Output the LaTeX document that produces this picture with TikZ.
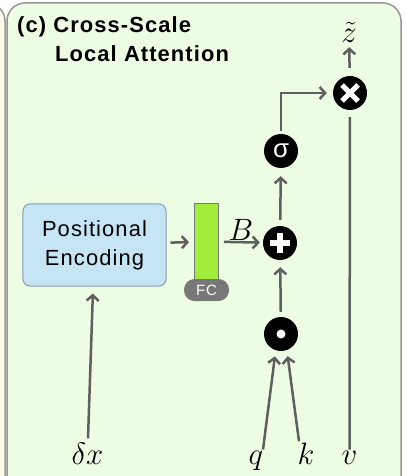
\RequirePackage{fix-cm}
\documentclass[tikz,border=0pt]{standalone}
\usepackage{fontspec}
\usetikzlibrary{arrows.meta}

\newfontfamily\labelfont[LetterSpace=5]{Liberation Sans}
\definecolor{panelgreen}{RGB}{236,253,228}
\definecolor{panelbeige}{RGB}{253,250,236}
\definecolor{panelborder}{RGB}{150,150,150}
\definecolor{peblue}{RGB}{197,229,245}
\definecolor{peborder}{RGB}{130,160,178}
\definecolor{fcgreen}{RGB}{162,236,58}
\definecolor{pillgray}{RGB}{120,120,120}
\definecolor{arrowgray}{RGB}{95,95,95}

\begin{document}
\begin{tikzpicture}[x=1bp, y=-1bp,
    arr/.style={draw=arrowgray, line width=2.5bp, -{Straight Barb[length=5.5bp, width=12bp]}},
    wire/.style={draw=arrowgray, line width=2.5bp},
    op/.style={circle, fill=black, minimum size=34bp, inner sep=0pt},
    mathlbl/.style={font=\fontsize{31}{35}\selectfont, inner sep=1bp}]
    \useasboundingbox (0,0) rectangle (406,476);
    \clip (0,0) rectangle (406,476);

    % Add panels
    \draw[fill=panelbeige, draw=panelborder, line width=1.5bp, rounded corners=18bp] (-300,3) rectangle (5,520);
    \draw[fill=panelgreen, draw=panelborder, line width=1.5bp, rounded corners=18bp] (7,3) rectangle (401,520);

    % title
    \node[anchor=base west, inner sep=0pt, font=\labelfont\bfseries\fontsize{22}{26}\selectfont] (title1) at (17,33) {(c) Cross-Scale};
    \node[anchor=base west, inner sep=0pt, font=\labelfont\bfseries\fontsize{22}{26}\selectfont] (title2) at (55,62) {Local Attention};

    % positional encoding and FC layer
    \node[draw=peborder, fill=peblue, line width=1bp, rounded corners=7bp, minimum width=143bp, minimum height=82bp,
          align=center, font=\labelfont\fontsize{22}{29}\selectfont] (pe) at (94.5,245) {Positional\\Encoding};
    \node[draw=pillgray, fill=fcgreen, line width=1bp, minimum width=24bp, minimum height=75bp, inner sep=0pt] (fc) at (206.5,241.5) {};
    \node[fill=pillgray, rounded corners=10.5bp, minimum width=45bp, minimum height=22bp, inner sep=0pt,
          text=white, font=\labelfont\fontsize{15}{18}\selectfont] (fclbl) at (206.5,290) {FC};

    % operators
    \node[op] (plus) at (280,243) {};
    \node[op, text=white, font=\labelfont\fontsize{26}{30}\selectfont] (sigma) at (281,151) {\raisebox{1bp}{σ}};
    \node[op] (times) at (350,93) {};
    \node[op] (dot) at (281,334) {};
    \draw[white, line width=6bp] ([xshift=-10bp]plus.center) -- ([xshift=10bp]plus.center);
    \draw[white, line width=6bp] ([yshift=-10bp]plus.center) -- ([yshift=10bp]plus.center);
    \draw[white, line width=5bp] ([shift={(-8bp,-8bp)}]times.center) -- ([shift={(8bp,8bp)}]times.center);
    \draw[white, line width=5bp] ([shift={(-8bp,8bp)}]times.center) -- ([shift={(8bp,-8bp)}]times.center);
    \fill[white] (dot.center) circle[radius=4.5bp];

    % inputs and output
    \node[mathlbl, anchor=base] (dx) at (87.5,464) {$\delta x$};
    \node[mathlbl, anchor=base] (q) at (256,464) {$q$};
    \node[mathlbl, anchor=base] (k) at (306,464) {$k$};
    \node[mathlbl, anchor=base] (v) at (349.5,464) {$v$};
    \node[mathlbl, anchor=base] (z) at (349,43) {$\tilde{z}$};

    % connections
    \draw[arr, shorten <=3bp, shorten >=7bp] (dx) -- (pe);
    \draw[arr, shorten <=4bp, shorten >=5bp] (pe) -- (fc);
    \draw[arr, shorten <=5bp, shorten >=3bp] (fc) -- node[above, mathlbl, yshift=-1bp] (blbl) {$B$} (plus);
    \draw[arr, shorten <=5bp, shorten >=7bp] (dot) -- (plus);
    \draw[arr, shorten <=6bp, shorten >=8bp] (plus) -- (sigma);
    \draw[arr, shorten <=3bp, shorten >=6bp] (sigma) |- (times);
    \draw[arr, shorten <=8bp, shorten >=3bp] (times) -- (z);
    \draw[wire, shorten >=7bp] (v.north) -- (times);
    \draw[arr, shorten >=6bp] ([xshift=7bp]q.north) -- (dot.-108);
    \draw[arr, shorten >=6bp] ([xshift=-7bp]k.north) -- (dot.-70);

\end{tikzpicture}
\end{document}
